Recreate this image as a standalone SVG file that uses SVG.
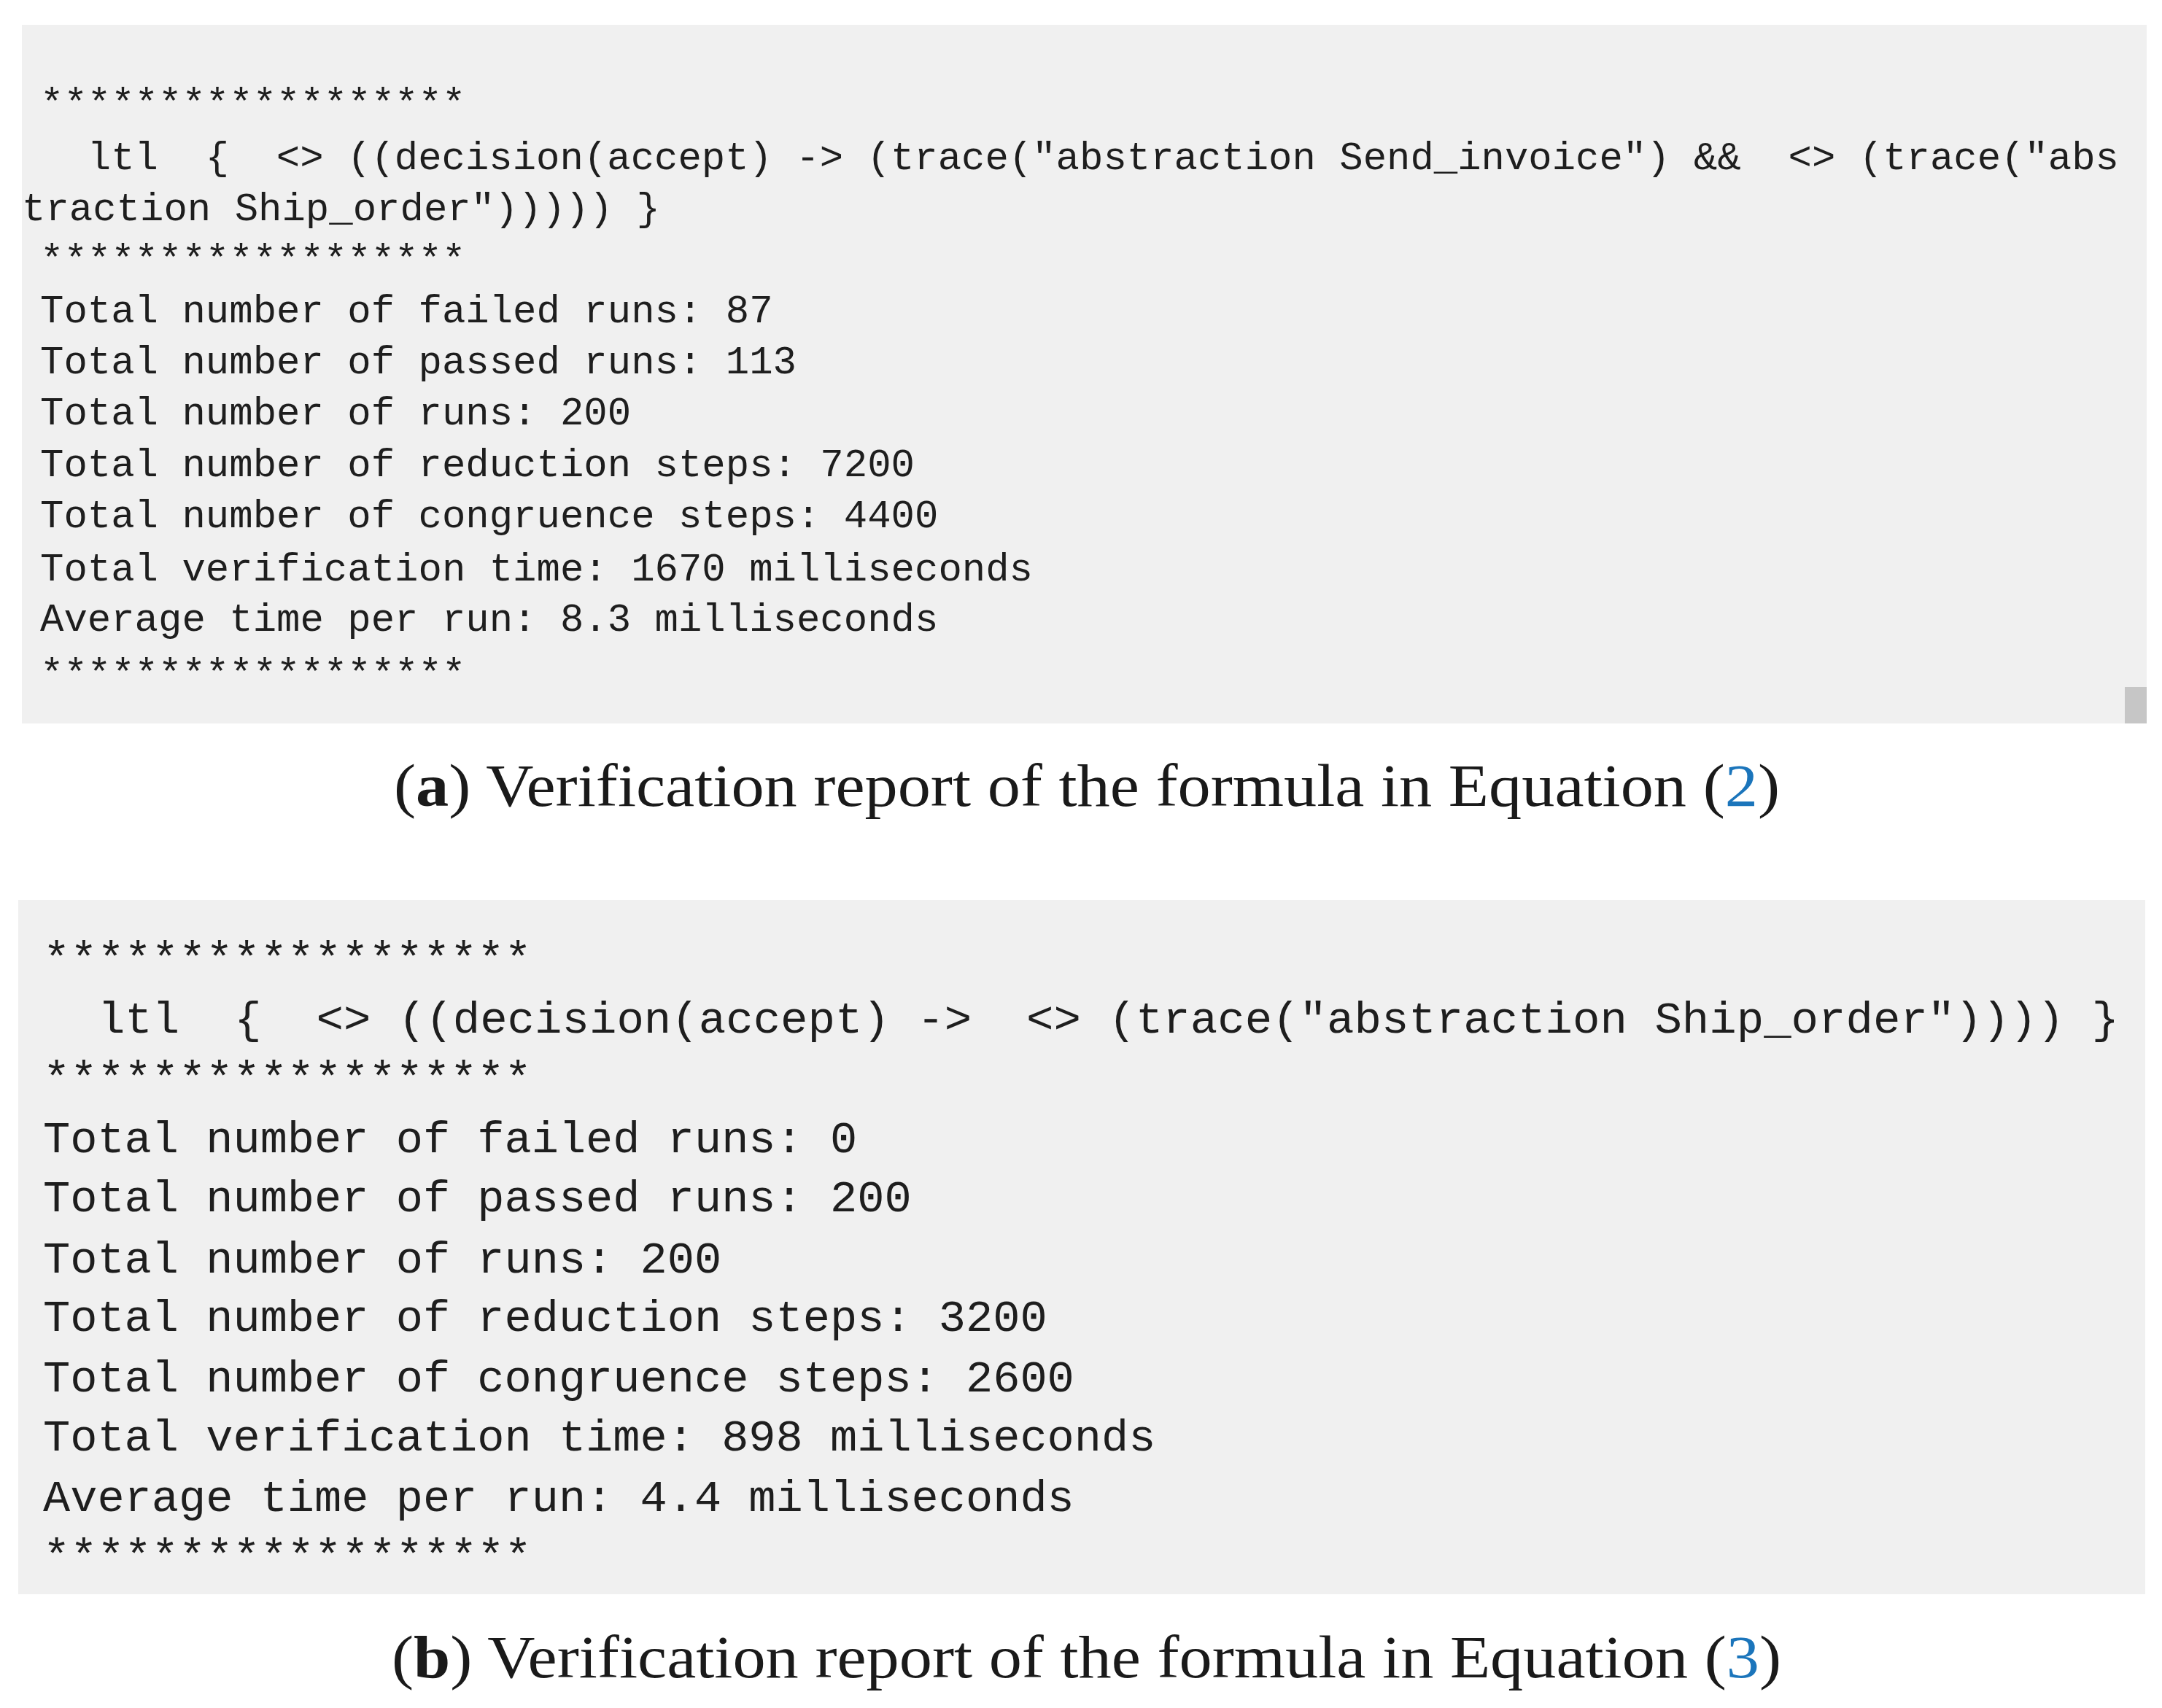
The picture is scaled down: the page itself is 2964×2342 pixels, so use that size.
<svg xmlns="http://www.w3.org/2000/svg" width="2964" height="2342" viewBox="0 0 2964 2342">
<style>
.bg{fill:#f0f0f0}
.ma{font-family:"Liberation Mono","DejaVu Sans Mono",monospace;font-size:54px;fill:#1e1e1e;white-space:pre}
.mb{font-family:"Liberation Mono","DejaVu Sans Mono",monospace;font-size:62px;fill:#1e1e1e;white-space:pre}
.cap{font-family:"Liberation Serif",serif;font-size:82px;fill:#1a1a1a}
.ref{fill:#1b75bb}
</style>
<rect width="2964" height="2342" fill="#ffffff"/>
<g id="panel-a">
<rect class="bg" x="30" y="34" width="2913" height="958"/>
<rect x="2913" y="942" width="30" height="50" fill="#c6c6c6"/>
<text class="ma" xml:space="preserve" x="55" y="158">******************</text>
<text class="ma" xml:space="preserve" x="55" y="232" textLength="2850" lengthAdjust="spacingAndGlyphs">  ltl  {  &lt;&gt; ((decision(accept) -&gt; (trace("abstraction Send_invoice") &amp;&amp;  &lt;&gt; (trace("abs</text>
<text class="ma" xml:space="preserve" x="30" y="302">traction Ship_order"))))) }</text>
<text class="ma" xml:space="preserve" x="55" y="372">******************</text>
<text class="ma" xml:space="preserve" x="55" y="442">Total number of failed runs: 87</text>
<text class="ma" xml:space="preserve" x="55" y="512">Total number of passed runs: 113</text>
<text class="ma" xml:space="preserve" x="55" y="582">Total number of runs: 200</text>
<text class="ma" xml:space="preserve" x="55" y="653">Total number of reduction steps: 7200</text>
<text class="ma" xml:space="preserve" x="55" y="723">Total number of congruence steps: 4400</text>
<text class="ma" xml:space="preserve" x="55" y="796">Total verification time: 1670 milliseconds</text>
<text class="ma" xml:space="preserve" x="55" y="865">Average time per run: 8.3 milliseconds</text>
<text class="ma" xml:space="preserve" x="55" y="940">******************</text>
<text class="cap" x="540" y="1105" textLength="1900" lengthAdjust="spacingAndGlyphs">(<tspan font-weight="bold">a</tspan>) Verification report of the formula in Equation (<tspan class="ref">2</tspan>)</text>
</g>
<g id="panel-b">
<rect class="bg" x="25" y="1234" width="2916" height="952"/>
<text class="mb" xml:space="preserve" x="59" y="1333">******************</text>
<text class="mb" xml:space="preserve" x="59" y="1416" textLength="2846" lengthAdjust="spacingAndGlyphs">  ltl  {  &lt;&gt; ((decision(accept) -&gt;  &lt;&gt; (trace("abstraction Ship_order")))) }</text>
<text class="mb" xml:space="preserve" x="59" y="1497">******************</text>
<text class="mb" xml:space="preserve" x="59" y="1580">Total number of failed runs: 0</text>
<text class="mb" xml:space="preserve" x="59" y="1661">Total number of passed runs: 200</text>
<text class="mb" xml:space="preserve" x="59" y="1745">Total number of runs: 200</text>
<text class="mb" xml:space="preserve" x="59" y="1825">Total number of reduction steps: 3200</text>
<text class="mb" xml:space="preserve" x="59" y="1908">Total number of congruence steps: 2600</text>
<text class="mb" xml:space="preserve" x="59" y="1989">Total verification time: 898 milliseconds</text>
<text class="mb" xml:space="preserve" x="59" y="2072">Average time per run: 4.4 milliseconds</text>
<text class="mb" xml:space="preserve" x="59" y="2152">******************</text>
<text class="cap" x="537" y="2300" textLength="1905" lengthAdjust="spacingAndGlyphs">(<tspan font-weight="bold">b</tspan>) Verification report of the formula in Equation (<tspan class="ref">3</tspan>)</text>
</g>
</svg>
